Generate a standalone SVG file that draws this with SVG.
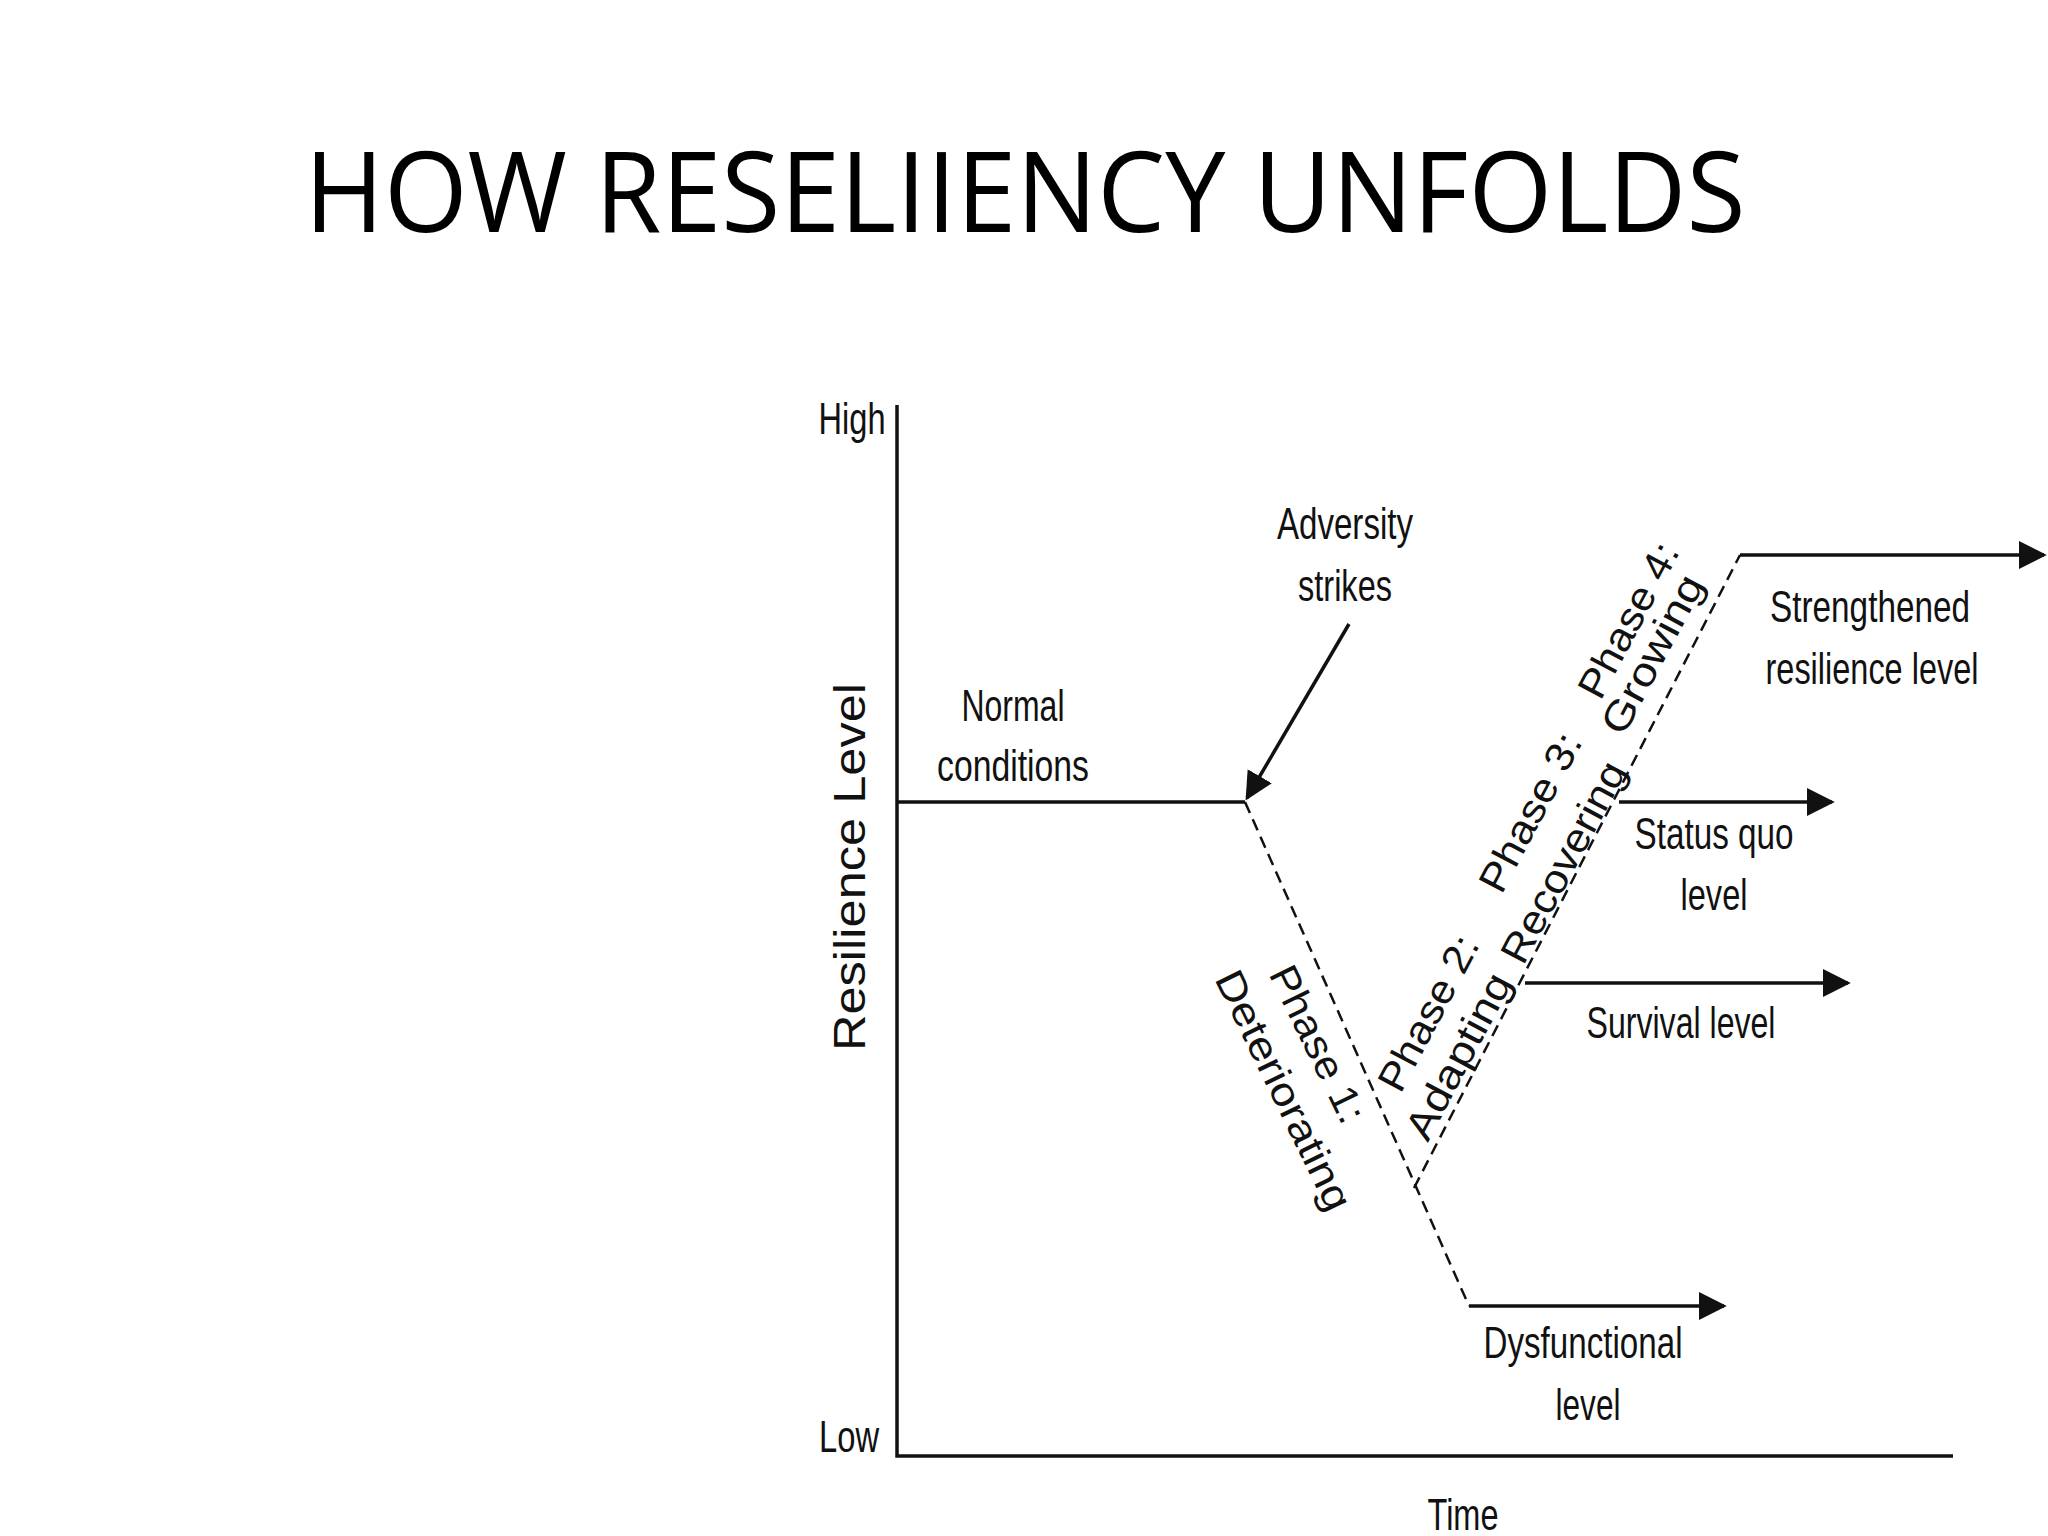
<svg xmlns="http://www.w3.org/2000/svg" width="2048" height="1536" viewBox="0 0 2048 1536">
<style>
.t{font-family:"Liberation Sans",Arial,sans-serif;font-size:44px;fill:#111;text-anchor:middle}
.r{font-family:"Liberation Sans",Arial,sans-serif;font-size:40px;fill:#111;text-anchor:middle}
.s{stroke:#111;stroke-width:3.5;fill:none}
.d{stroke:#111;stroke-width:2.5;fill:none;stroke-dasharray:12 7}
</style>
<defs>
<marker id="a" viewBox="0 0 10 10" refX="9" refY="5" markerWidth="8" markerHeight="8" orient="auto"><path d="M0,0 L10,5 L0,10 z" fill="#111"/></marker>
</defs>
<rect width="2048" height="1536" fill="#fff"/>
<text x="1025" y="232" font-family="'Open Sans',sans-serif" font-size="112" fill="#000" text-anchor="middle" textLength="1441" lengthAdjust="spacingAndGlyphs">HOW RESELIIENCY UNFOLDS</text>
<g id="connectors">
<path class="s" d="M897,405 V1456 H1953"/>
<path class="s" d="M897,802 H1245"/>
<path class="d" d="M1245,802 L1469,1306"/>
<path class="s" d="M1469,1306 H1724" marker-end="url(#a)"/>
<path class="d" d="M1414,1188 L1740,555"/>
<path class="s" d="M1740,555 H2044" marker-end="url(#a)"/>
<path class="s" d="M1619,802 H1832" marker-end="url(#a)"/>
<path class="s" d="M1525,983 H1848" marker-end="url(#a)"/>
<path class="s" d="M1349,624 L1247,798" marker-end="url(#a)"/>
</g>
<g id="axis-labels">
<text class="t" x="852" y="434" textLength="67" lengthAdjust="spacingAndGlyphs">High</text>
<text class="t" x="849" y="1452" textLength="60" lengthAdjust="spacingAndGlyphs">Low</text>
<text class="t" x="1463" y="1530" font-size="40" textLength="71" lengthAdjust="spacingAndGlyphs">Time</text>
<text class="t" transform="translate(865,867) rotate(-90)" x="0" y="0" font-size="36" textLength="368" lengthAdjust="spacingAndGlyphs">Resilience Level</text>
</g>
<g id="normal"><text class="t" x="1013" y="721" textLength="103" lengthAdjust="spacingAndGlyphs">Normal</text><text class="t" x="1013" y="781" textLength="152" lengthAdjust="spacingAndGlyphs">conditions</text></g>
<g id="adversity"><text class="t" x="1345" y="539" textLength="136" lengthAdjust="spacingAndGlyphs">Adversity</text><text class="t" x="1345" y="601" textLength="94" lengthAdjust="spacingAndGlyphs">strikes</text></g>
<g id="strengthened"><text class="t" x="1870" y="622" textLength="200" lengthAdjust="spacingAndGlyphs">Strengthened</text><text class="t" x="1872" y="684" textLength="213" lengthAdjust="spacingAndGlyphs">resilience level</text></g>
<g id="statusquo"><text class="t" x="1714" y="849" textLength="159" lengthAdjust="spacingAndGlyphs">Status quo</text><text class="t" x="1714" y="910" textLength="67" lengthAdjust="spacingAndGlyphs">level</text></g>
<g id="survival"><text class="t" x="1681" y="1038" textLength="189" lengthAdjust="spacingAndGlyphs">Survival level</text></g>
<g id="dysfunctional"><text class="t" x="1583" y="1358" textLength="199" lengthAdjust="spacingAndGlyphs">Dysfunctional</text><text class="t" x="1588" y="1420" textLength="65" lengthAdjust="spacingAndGlyphs">level</text></g>
<g id="phase1">
<text class="r" transform="translate(1318,1044) rotate(64)" y="14" textLength="170" lengthAdjust="spacingAndGlyphs">Phase 1:</text>
<text class="r" transform="translate(1284,1090) rotate(64)" y="14" textLength="262" lengthAdjust="spacingAndGlyphs">Deteriorating</text>
</g>
<g id="phase2">
<text class="r" transform="translate(1428,1013) rotate(-62)" y="14" textLength="170" lengthAdjust="spacingAndGlyphs">Phase 2:</text>
<text class="r" transform="translate(1458,1056) rotate(-62)" y="14" textLength="182" lengthAdjust="spacingAndGlyphs">Adapting</text>
</g>
<g id="phase3">
<text class="r" transform="translate(1530,812) rotate(-62)" y="14" textLength="174" lengthAdjust="spacingAndGlyphs">Phase 3:</text>
<text class="r" transform="translate(1563,862) rotate(-62)" y="14" textLength="222" lengthAdjust="spacingAndGlyphs">Recovering</text>
</g>
<g id="phase4">
<text class="r" transform="translate(1628,620) rotate(-62)" y="14" textLength="170" lengthAdjust="spacingAndGlyphs">Phase 4:</text>
<text class="r" transform="translate(1652,654) rotate(-62)" y="14" textLength="174" lengthAdjust="spacingAndGlyphs">Growing</text>
</g>
</svg>
